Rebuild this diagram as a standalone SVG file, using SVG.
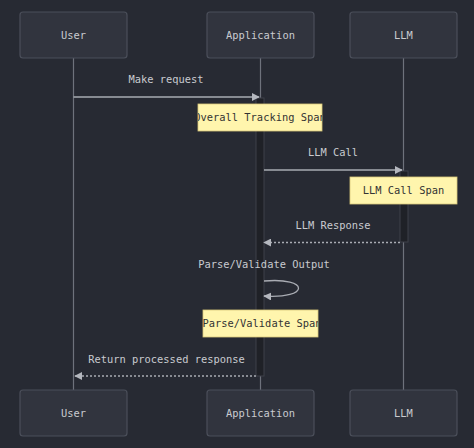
<svg xmlns="http://www.w3.org/2000/svg" width="474" height="448" viewBox="0 0 474 448">
<style>
.actor rect{fill:#31343e;stroke:#4b4f5a;stroke-width:1.2}
.lbl{font-family:"DejaVu Sans Mono",monospace;font-size:10.4px;fill:#c9cbd0;text-anchor:middle}
.life{stroke:#6e727c;stroke-width:1.2}
.msg{stroke:#a9acb3;stroke-width:1.3;fill:none}
.dot{stroke-dasharray:2,2}
.act{fill:#1f2127;stroke:#3e414a;stroke-width:1}
.note rect{fill:#fff5ad;stroke:#d9c97a;stroke-width:0.8}
.note text{font-family:"DejaVu Sans Mono",monospace;font-size:10.4px;fill:#333;text-anchor:middle}
</style>
<defs>
<marker id="ah" viewBox="0 0 10 10" refX="9" refY="5" markerWidth="8" markerHeight="8" orient="auto-start-reverse" markerUnits="userSpaceOnUse"><path d="M0,0 L10,5 L0,10 z" fill="#b4b7be"/></marker>
<clipPath id="c1"><rect x="198" y="104" width="124" height="27"/></clipPath>
<clipPath id="c3"><rect x="203" y="310" width="115" height="27"/></clipPath>
</defs>
<rect width="474" height="448" fill="#272a33"/>
<g id="lifelines">
<line class="life" x1="73.5" y1="58" x2="73.5" y2="390"/>
<line class="life" x1="260.5" y1="58" x2="260.5" y2="390"/>
<line class="life" x1="403.5" y1="58" x2="403.5" y2="390"/>
</g>
<g id="actor-user-top" class="actor"><rect x="20" y="12" width="107" height="46" rx="3"/><text class="lbl" x="73.5" y="39">User</text></g>
<g id="actor-app-top" class="actor"><rect x="207" y="12" width="107" height="46" rx="3"/><text class="lbl" x="260.5" y="39">Application</text></g>
<g id="actor-llm-top" class="actor"><rect x="350" y="12" width="107" height="46" rx="3"/><text class="lbl" x="403.5" y="39">LLM</text></g>
<g id="actor-user-bottom" class="actor"><rect x="20" y="390" width="107" height="46" rx="3"/><text class="lbl" x="73.5" y="417">User</text></g>
<g id="actor-app-bottom" class="actor"><rect x="207" y="390" width="107" height="46" rx="3"/><text class="lbl" x="260.5" y="417">Application</text></g>
<g id="actor-llm-bottom" class="actor"><rect x="350" y="390" width="107" height="46" rx="3"/><text class="lbl" x="403.5" y="417">LLM</text></g>
<g id="activations">
<rect class="act" x="256" y="98" width="8" height="278"/>
<rect class="act" x="400" y="171" width="8" height="71"/>
</g>
<g id="connectors">
<line class="msg" x1="73.5" y1="97" x2="259" y2="97" marker-end="url(#ah)"/>
<text class="lbl" x="166" y="83">Make request</text>
<line class="msg" x1="264" y1="170" x2="402" y2="170" marker-end="url(#ah)"/>
<text class="lbl" x="333" y="156">LLM Call</text>
<line class="msg dot" x1="400" y1="242.5" x2="264" y2="242.5" marker-end="url(#ah)"/>
<text class="lbl" x="333" y="229">LLM Response</text>
<text class="lbl" x="264" y="268">Parse/Validate Output</text>
<path class="msg" d="M264,281 C310,277 310,299 264,296" marker-end="url(#ah)"/>
<line class="msg dot" x1="256" y1="376" x2="75" y2="376" marker-end="url(#ah)"/>
<text class="lbl" x="166.5" y="363">Return processed response</text>
</g>
<g id="note-overall" class="note"><rect x="198" y="104" width="124" height="27"/><text x="260" y="121" clip-path="url(#c1)">Overall Tracking Span</text></g>
<g id="note-llm" class="note"><rect x="350" y="177" width="107" height="27"/><text x="403.5" y="194">LLM Call Span</text></g>
<g id="note-parse" class="note"><rect x="203" y="310" width="115" height="27"/><text x="262" y="327" clip-path="url(#c3)">Parse/Validate Span</text></g>
</svg>
